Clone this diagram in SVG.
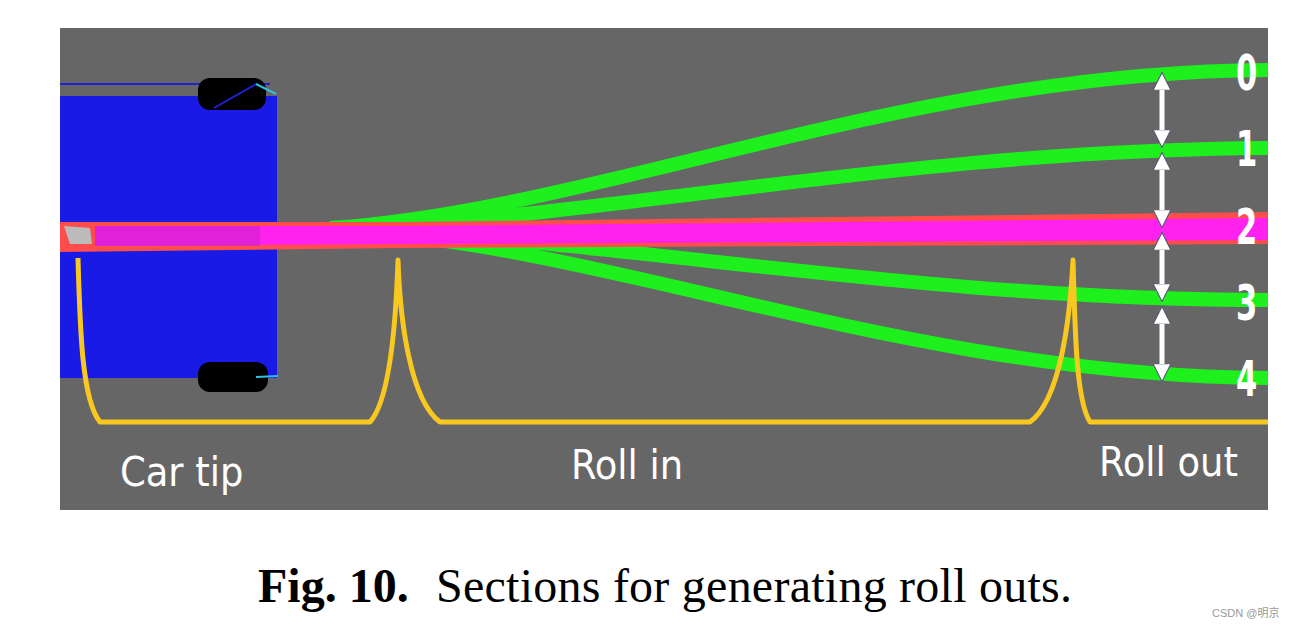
<svg xmlns="http://www.w3.org/2000/svg" width="1296" height="628" viewBox="0 0 1296 628">
<defs>
<style>
.g{fill:none;stroke:#1ef01e;stroke-width:14;stroke-linecap:butt}
.y{fill:none;stroke:#f8c820;stroke-width:5;stroke-linejoin:round}
.lab{font-family:"DejaVu Sans Condensed","DejaVu Sans",sans-serif;fill:#fff;font-size:41px}
.num{font-family:"DejaVu Sans Condensed","DejaVu Sans",sans-serif;fill:#fff;font-size:40px;font-weight:bold}
.ar{stroke:#fff;stroke-width:5}
</style>
<marker id="ah" viewBox="0 0 10 10" refX="8" refY="5" markerWidth="3.6" markerHeight="3.6" orient="auto-start-reverse" markerUnits="strokeWidth"><path d="M0,0L10,5L0,10z" fill="#fff" stroke="#557" stroke-width="0.6"/></marker>
</defs>
<rect width="1296" height="628" fill="#fff"/>
<rect x="60" y="28" width="1208" height="482" fill="#666"/>
<g id="car">
<line x1="60" y1="84" x2="270" y2="84" stroke="#2020d0" stroke-width="2"/>
<rect x="60" y="96" width="217" height="282" fill="#1a1ae6"/>
<rect x="198" y="78" width="68" height="32" rx="12" fill="#000"/>
<rect x="198" y="362" width="70" height="30" rx="12" fill="#000"/>
<line x1="214" y1="108" x2="256" y2="84" stroke="#2020d0" stroke-width="2"/>
<line x1="256" y1="84" x2="276" y2="94" stroke="#30c0e0" stroke-width="2"/>
<line x1="256" y1="377" x2="278" y2="376" stroke="#30c0e0" stroke-width="2"/>
</g>
<g id="paths">
<path class="g" d="M330,228 C600,210 900,72 1268,70"/>
<path class="g" d="M330,228 C600,220 900,150 1268,148"/>
<path class="g" d="M330,230 C600,235 900,300 1268,300"/>
<path class="g" d="M330,230 C600,240 900,376 1268,378"/>
<polygon points="60,222 400,222 1268,212 1268,244 400,248 60,252" fill="#ff4d4d"/>
<polygon points="95,226 400,226 1268,218 1268,240 400,244 95,246" fill="#ff22ee"/>
<polygon points="95,226 260,226 260,246 95,246" fill="#cc22cc" opacity="0.6"/>
<polygon points="64,226 90,228 92,244 70,244" fill="#bbb"/>
</g>
<g id="connectors">
<line class="ar" x1="1162" y1="76" x2="1162" y2="144" marker-start="url(#ah)" marker-end="url(#ah)"/>
<line class="ar" x1="1162" y1="156" x2="1162" y2="224" marker-start="url(#ah)" marker-end="url(#ah)"/>
<line class="ar" x1="1162" y1="236" x2="1162" y2="298" marker-start="url(#ah)" marker-end="url(#ah)"/>
<line class="ar" x1="1162" y1="310" x2="1162" y2="378" marker-start="url(#ah)" marker-end="url(#ah)"/>
</g>
<g id="brackets">
<path class="y" d="M78,258 C80,330 82,400 100,422 L370,422 C390,400 396,320 398,260 C400,320 410,400 440,422 L1030,422 C1060,400 1070,320 1073,260 C1075,330 1076,400 1090,422 L1268,422"/>
</g>
<g id="labels">
<text class="lab" x="120" y="486">Car tip</text>
<text class="lab" x="571" y="479">Roll in</text>
<text class="lab" x="1099" y="476">Roll out</text>
<text class="num" transform="translate(1236,90) scale(0.85,1.25)">0</text>
<text class="num" transform="translate(1236,166) scale(0.85,1.25)">1</text>
<text class="num" transform="translate(1236,244) scale(0.85,1.25)">2</text>
<text class="num" transform="translate(1236,320) scale(0.85,1.25)">3</text>
<text class="num" transform="translate(1236,396) scale(0.85,1.25)">4</text>
</g>
<text x="258" y="602" font-family="Liberation Serif,serif" font-size="48" font-weight="bold" fill="#000">Fig. 10.</text>
<text x="436" y="602" font-family="Liberation Serif,serif" font-size="48" fill="#000" textLength="636">Sections for generating roll outs.</text>
<text x="1212" y="617" font-family="Liberation Sans,Noto Sans CJK SC,sans-serif" font-size="11" fill="#999">CSDN @明京</text>
</svg>
